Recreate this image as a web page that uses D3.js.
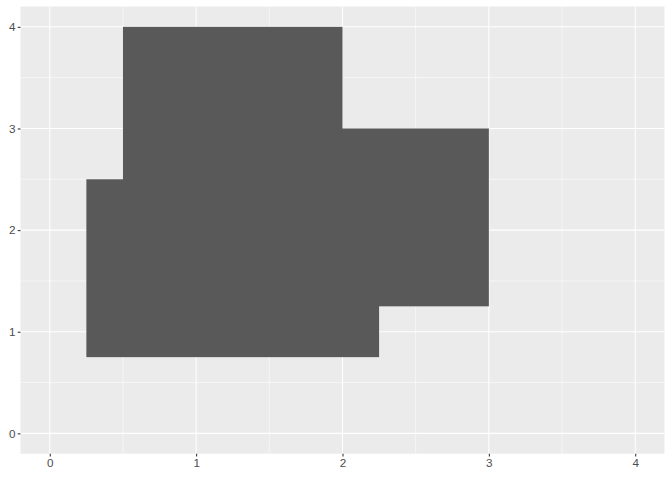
<!DOCTYPE html>
<html><head><meta charset="utf-8">
<script src="https://cdn.jsdelivr.net/npm/d3@7"></script>
<style>body{margin:0;background:#fff}</style>
</head><body>
<svg id="c" width="672" height="480"></svg>
<script>
const xmin = [0.25, 0.5, 1.5];
const xmax = [2.25, 2, 3];
const ymin = [0.75, 1, 1.25];
const ymax = [2.5, 4, 3];
const xTicks = [0, 1, 2, 3, 4];
const yTicks = [0, 1, 2, 3, 4];
const xMinor = [0.5, 1.5, 2.5, 3.5];
const yMinor = [0.5, 1.5, 2.5, 3.5];

const L = 20.5, R = 664.5, T = 6.5, B = 453.7;
const svg = d3.select("#c");
const xr = d3.extent(xTicks), yr = d3.extent(yTicks);
const ex = (xr[1]-xr[0])*0.05, ey = (yr[1]-yr[0])*0.05;
const x = d3.scaleLinear().domain([xr[0]-ex, xr[1]+ex]).range([L, R]);
const y = d3.scaleLinear().domain([yr[0]-ey, yr[1]+ey]).range([B, T]);

svg.append("rect").attr("x", L).attr("y", T).attr("width", R-L).attr("height", B-T).attr("fill", "#EBEBEB");
const g = svg.append("g");
g.selectAll(".vmin").data(xMinor).join("line").attr("x1", d=>x(d)).attr("x2", d=>x(d)).attr("y1", T).attr("y2", B).attr("stroke", "#fff").attr("stroke-width", 0.53);
g.selectAll(".hmin").data(yMinor).join("line").attr("y1", d=>y(d)).attr("y2", d=>y(d)).attr("x1", L).attr("x2", R).attr("stroke", "#fff").attr("stroke-width", 0.53);
g.selectAll(".vmaj").data(xTicks).join("line").attr("x1", d=>x(d)).attr("x2", d=>x(d)).attr("y1", T).attr("y2", B).attr("stroke", "#fff").attr("stroke-width", 1.07);
g.selectAll(".hmaj").data(yTicks).join("line").attr("y1", d=>y(d)).attr("y2", d=>y(d)).attr("x1", L).attr("x2", R).attr("stroke", "#fff").attr("stroke-width", 1.07);

const rects = xmin.map((d,i)=>({x0:d, x1:xmax[i], y0:ymin[i], y1:ymax[i]}));
svg.selectAll(".r").data(rects).join("rect")
  .attr("x", d=>x(d.x0)).attr("width", d=>x(d.x1)-x(d.x0))
  .attr("y", d=>y(d.y1)).attr("height", d=>y(d.y0)-y(d.y1))
  .attr("fill", "#595959");

const xa = svg.append("g").attr("transform", `translate(0,${B})`)
  .call(d3.axisBottom(x).tickValues(xTicks).tickSize(2.75).tickPadding(2.2).tickFormat(d3.format("d")));
const ya = svg.append("g").attr("transform", `translate(${L},0)`)
  .call(d3.axisLeft(y).tickValues(yTicks).tickSize(2.75).tickPadding(2.2).tickFormat(d3.format("d")));
[xa, ya].forEach(a=>{
  a.select(".domain").remove();
  a.selectAll("line").attr("stroke", "#333333").attr("stroke-width", 1.07);
  a.selectAll("text").attr("fill", "#4D4D4D").style("font-family", "Liberation Sans, Arial, sans-serif").style("font-size", "11.7px");
});
</script>
</body></html>
